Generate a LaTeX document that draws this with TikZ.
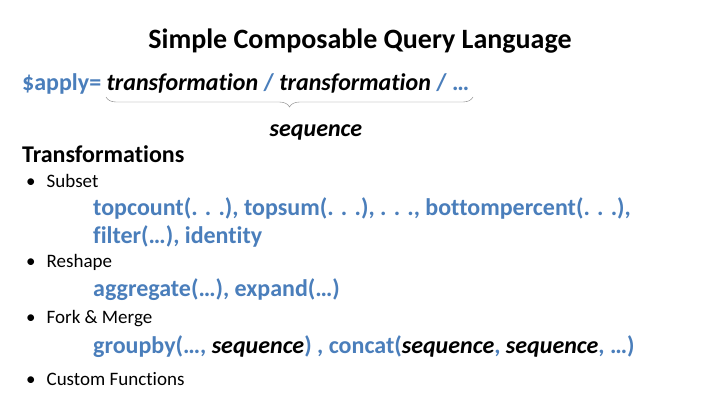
\documentclass[tikz,border=0pt]{standalone}
\usepackage{fontspec}
\setmainfont[Ligatures=NoCommon]{Carlito}
\usetikzlibrary{decorations.pathreplacing}
\definecolor{qblue}{HTML}{4A7EBB}
\begin{document}
\begin{tikzpicture}[x=1pt,y=-1pt,
  txt/.style={anchor=west,inner sep=0pt},
  blu/.style={txt,text=qblue,font=\fontsize{24}{28}\selectfont\bfseries},
  bul/.style={txt,font=\fontsize{19}{22}\selectfont}]
\useasboundingbox[fill=white] (0,0) rectangle (720,405);
\node[inner sep=0pt,font=\fontsize{28}{32}\selectfont\bfseries] (title) at (360,41) {Simple Composable Query Language};
\node[txt,font=\fontsize{24}{28}\selectfont\bfseries] (apply) at (22,84) {\textcolor{qblue}{\$apply=} \textit{transformation} \textcolor{qblue}{/} \textit{transformation} \textcolor{qblue}{/ …}};
\coordinate (bl) at (106,97);
\coordinate (br) at (473,97);
\draw[gray,decoration={brace,mirror,amplitude=10pt},decorate] (bl) -- (br);
\node[inner sep=0pt,font=\fontsize{24}{28}\selectfont\bfseries\itshape] (seq) at (316,132) {sequence};
\node[txt,font=\fontsize{24}{28}\selectfont\bfseries] (trans) at (22,154) {Transformations};
\node[bul] (b1) at (26,181) {•\hspace{11pt}Subset};
\node[blu] (s1) at (93,208) {topcount(. . .), topsum(. . .), . . ., bottompercent(. . .),};
\node[blu] (s2) at (93,236) {filter(…), identity};
\node[bul] (b2) at (26,262) {•\hspace{11pt}Reshape};
\node[blu] (r1) at (93,290) {aggregate(…), expand(…)};
\node[bul] (b3) at (26,319) {•\hspace{11pt}Fork \& Merge};
\node[blu] (f1) at (93,347) {groupby(…, \textcolor{black}{\textit{sequence}}) , concat(\textcolor{black}{\textit{sequence}}, \textcolor{black}{\textit{sequence}}, …)};
\node[bul] (b4) at (26,379) {•\hspace{11pt}Custom Functions};
\end{tikzpicture}
\end{document}
